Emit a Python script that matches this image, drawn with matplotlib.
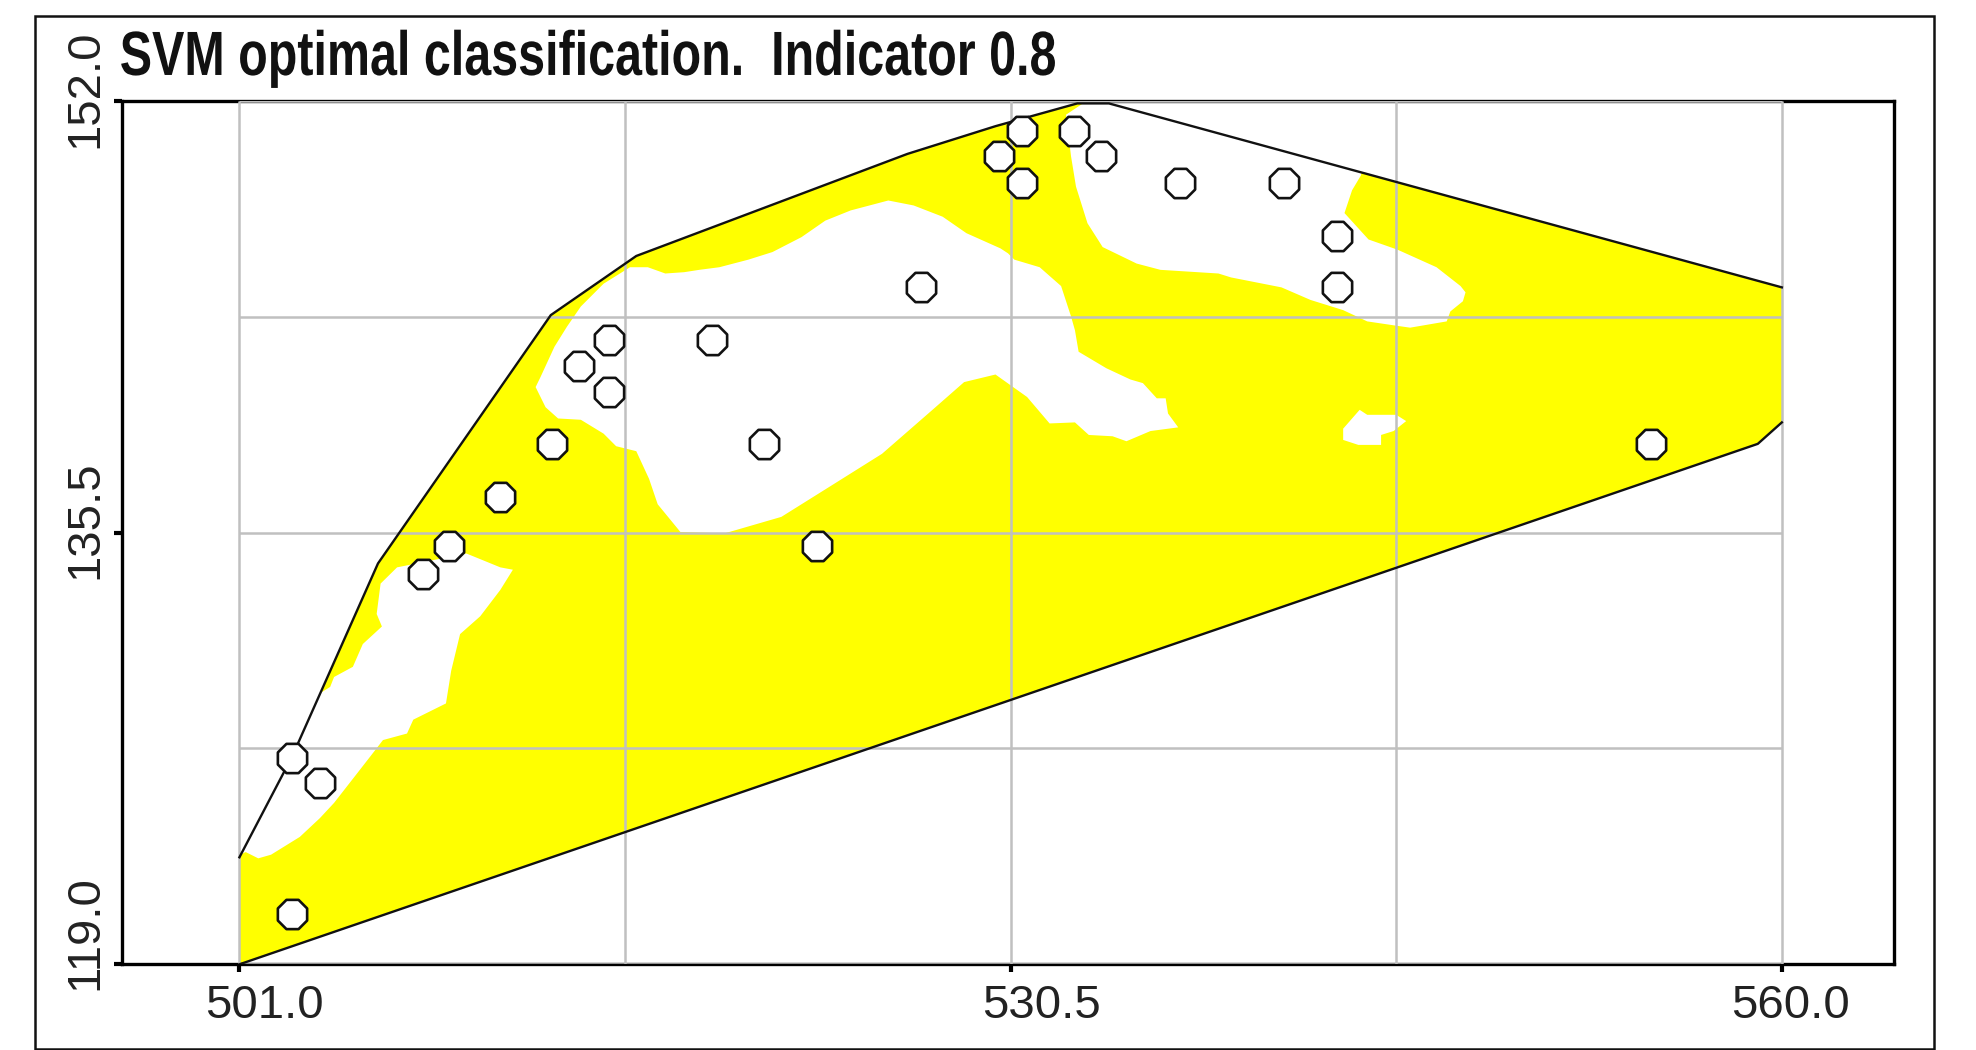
import matplotlib
matplotlib.use("Agg")
import matplotlib.pyplot as plt
import matplotlib.patheffects as pe
from matplotlib.patches import Rectangle
from matplotlib.transforms import Affine2D, ScaledTranslation

# outline of the sampled area
upper_x = [501.0, 503.02, 506.30, 512.91, 516.18, 526.55, 529.92, 533.05, 534.26, 560.0]
upper_y = [123.09, 126.95, 134.32, 143.81, 146.07, 149.97, 151.03, 151.90, 151.90, 144.87]
lower_x = [501.0, 559.08, 560.0]
lower_y = [119.0, 138.89, 139.71]

# regions where the indicator is 0 (left white)
central_x = [515.94, 516.62, 517.29, 518.01, 518.59, 519.36, 520.47, 521.39, 522.50, 523.41, 524.38,
             525.82, 526.79, 527.90, 528.81, 530.11, 530.40, 530.64, 531.61, 532.43, 532.81, 532.96,
             533.10, 534.16, 535.08, 535.56, 536.09, 536.43, 536.52, 536.91, 535.85, 534.93, 534.40,
             533.49, 532.96, 531.99, 531.13, 529.92, 528.72, 527.51, 525.58, 523.65, 521.73, 519.56,
             517.87, 517.00, 516.67, 516.18, 515.41, 514.93, 514.06, 513.19, 512.71, 512.33, 512.52,
             513.05, 513.53, 514.06, 514.93]
central_y = [145.64, 145.64, 145.40, 145.45, 145.54, 145.64, 145.93, 146.22, 146.79, 147.42, 147.81,
             148.19, 148.00, 147.57, 146.94, 146.36, 146.17, 145.93, 145.64, 144.92, 143.76, 143.23,
             142.41, 141.78, 141.35, 141.21, 140.63, 140.63, 140.05, 139.52, 139.38, 138.99, 139.18,
             139.23, 139.71, 139.67, 140.68, 141.54, 141.25, 140.19, 138.51, 137.30, 136.10, 135.47,
             135.52, 136.58, 137.55, 138.61, 138.80, 139.28, 139.81, 139.86, 140.29, 141.06, 141.45,
             142.60, 143.37, 144.14, 145.01]

upper_right_x = [532.62, 532.81, 533.00, 533.44, 534.02, 535.32, 536.23, 538.45, 538.93, 540.86, 541.97,
                 543.22, 544.14, 545.15, 545.78, 547.18, 547.32, 547.80, 547.90, 547.71, 546.79, 545.30,
                 544.19, 543.27, 543.56, 543.90, 543.99, 533.78]
upper_right_y = [151.47, 149.88, 148.72, 147.32, 146.41, 145.78, 145.54, 145.40, 145.25, 144.87, 144.39,
                 144.00, 143.57, 143.42, 143.33, 143.57, 143.95, 144.34, 144.68, 144.92, 145.64, 146.31,
                 146.70, 147.71, 148.58, 149.15, 149.59, 152.24]

lower_left_x = [509.68, 510.98, 511.46, 510.98, 510.21, 509.44, 509.10, 508.90, 507.65, 507.41, 506.49,
                506.01, 505.48, 504.62, 504.08, 503.31, 502.21, 501.72, 501.24, 500.80, 503.65, 503.84,
                504.47, 504.62, 505.34, 505.72, 506.45, 506.25, 506.40, 507.03]
lower_left_y = [134.70, 134.17, 134.08, 133.31, 132.30, 131.62, 130.22, 128.97, 128.35, 127.82, 127.57,
                126.95, 126.27, 125.17, 124.59, 123.87, 123.19, 123.05, 123.29, 123.09, 129.21, 129.21,
                129.60, 129.98, 130.37, 131.24, 131.91, 132.39, 133.55, 134.17]

island_x = [543.85, 544.14, 545.25, 545.63, 545.15, 544.67, 544.67, 543.80, 543.22, 543.22]
island_y = [140.19, 140.00, 140.00, 139.76, 139.38, 139.23, 138.85, 138.85, 139.04, 139.47]

# sample points
points_x = [503.02, 503.02, 504.09, 508.04, 509.0, 510.98, 512.95, 513.98, 515.12, 515.12, 519.08, 521.05,
            523.08, 527.08, 530.07, 530.93, 530.93, 532.91, 533.97, 536.96, 540.96, 542.98, 542.98, 554.99]
points_y = [120.93, 126.90, 125.94, 133.93, 134.99, 136.87, 138.89, 141.88, 142.84, 140.87, 142.84, 138.89,
            134.99, 144.87, 149.88, 150.84, 148.87, 150.84, 149.88, 148.87, 148.87, 146.84, 144.87, 138.89]

x_ticks = [501.0, 530.5, 560.0]
y_ticks = [119.0, 135.5, 152.0]
x_grid = [501.0, 515.75, 530.5, 545.25, 560.0]
y_grid = [119.0, 127.25, 135.5, 143.75, 152.0]
title = "SVM optimal classification.  Indicator 0.8"


class Squeeze(pe.AbstractPathEffect):
    # narrows a text horizontally, no condensed font is installed
    def __init__(self, sx, pivot):
        super().__init__()
        self.sx = sx
        self.pivot = pivot

    def draw_path(self, renderer, gc, tpath, affine, rgbFace=None):
        squeeze = Affine2D().translate(-self.pivot, 0).scale(self.sx, 1).translate(self.pivot, 0)
        renderer.draw_path(gc, tpath, affine + squeeze, rgbFace)


plt.rcParams["font.family"] = "Liberation Sans"

fig = plt.figure(figsize=(19.76, 10.5), dpi=100)
ax = fig.add_axes([0.0619, 0.0816, 0.8966, 0.8224])
ax.set_xlim(496.52, 564.29)
ax.set_ylim(119, 152)

# yellow hull, then white holes on top
ax.fill(upper_x + lower_x[::-1], upper_y + lower_y[::-1], color="#ffff00", lw=0, zorder=1)
for xs, ys in [(central_x, central_y), (upper_right_x, upper_right_y),
               (lower_left_x, lower_left_y), (island_x, island_y)]:
    ax.fill(xs, ys, color="white", lw=0, zorder=2)

ax.vlines(x_grid, 119, 152, color="#c0c0c0", lw=1.8, zorder=3)
ax.hlines(y_grid, 501, 560, color="#c0c0c0", lw=1.8, zorder=3)

ax.plot(upper_x, upper_y, color="#111111", lw=1.7, zorder=4)
ax.plot(lower_x, lower_y, color="#111111", lw=1.7, zorder=4)
ax.scatter(points_x, points_y, s=520, marker="8", facecolor="white", edgecolor="#111111",
           linewidth=1.9, zorder=5)

for side in ax.spines.values():
    side.set_linewidth(2.4)

ax.set_xticks(x_ticks, [f"{v:.1f}" for v in x_ticks])
ax.set_yticks(y_ticks, [f"{v:.1f}" for v in y_ticks])
ax.tick_params(axis="both", length=6, width=3, labelsize=34, labelcolor="#222222")
ax.tick_params(axis="x", pad=8)
ax.tick_params(axis="y", pad=4.5)

for lab, dx in zip(ax.get_xticklabels(), [18, 22, 6]):
    lab.set_transform(lab.get_transform() + ScaledTranslation(dx / 72, 0, fig.dpi_scale_trans))
for lab, dy in zip(ax.get_yticklabels(), [23, 9, 9]):
    lab.set_rotation(90)
    lab.set_va("center")
    lab.set_transform(lab.get_transform() + ScaledTranslation(0, dy / 72, fig.dpi_scale_trans))

title_x = 0.0606
fig.text(title_x, 0.9286, title, fontsize=45, fontweight="bold", va="baseline", color="#111111",
         path_effects=[Squeeze(0.775, title_x * 1976)])

# frame round the whole picture
fig.add_artist(Rectangle((0.0179, 0.0012), 0.961, 0.984, transform=fig.transFigure,
                         fill=False, edgecolor="#111111", lw=1.8))

fig.savefig("out.png", dpi=100)
